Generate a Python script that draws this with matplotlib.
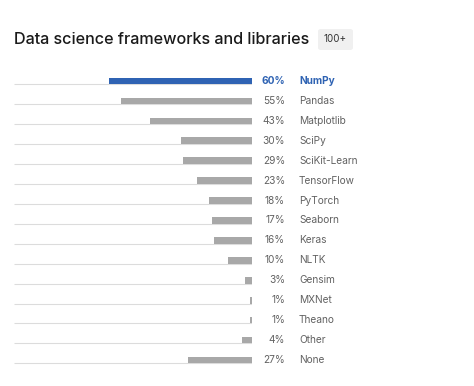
import matplotlib.pyplot as plt
from matplotlib import transforms
from matplotlib.patches import FancyBboxPatch

plt.rcParams['font.family'] = ['Inter', 'DejaVu Sans']

# Dane
names = ['NumPy', 'Pandas', 'Matplotlib', 'SciPy', 'SciKit-Learn', 'TensorFlow',
         'PyTorch', 'Seaborn', 'Keras', 'NLTK', 'Gensim', 'MXNet', 'Theano',
         'Other', 'None']
values = [60, 55, 43, 30, 29, 23, 18, 17, 16, 10, 3, 1, 1, 4, 27]

W, H = 474, 386
fig = plt.figure(figsize=(W / 100, H / 100), dpi=100)
fig.patch.set_facecolor('white')

# osie: od x=14 do x=252 px, od y=71 do y=370 px
ax = fig.add_axes([14 / W, 1 - 370 / H, (252 - 14) / W, (370 - 71) / H])
ax.set_xlim(100, 0)
ax.set_ylim(len(names) - 0.5, -0.5)
ax.axis('off')

blue = '#2f63b3'
grey = '#a8a8a8'
ypos = list(range(len(names)))
colors = [blue] + [grey] * (len(names) - 1)

bh = 0.33
ax.hlines([y + bh / 2 for y in ypos], 0, 100, color='#dcdcdc', lw=0.8, zorder=1)
ax.barh(ypos, values, height=bh, color=colors, zorder=2)

tr = transforms.blended_transform_factory(fig.transFigure, ax.transData)
for i, (n, v) in enumerate(zip(names, values)):
    c = blue if i == 0 else '#626262'
    w = 'bold' if i == 0 else 'normal'
    ax.text(285 / W, i, f'{v}%', transform=tr, ha='right', va='center',
            fontsize=7.3, color=c, fontweight=w)
    ax.text(299 / W, i, n, transform=tr, ha='left', va='center',
            fontsize=7.3, color=c, fontweight=w)

# tytuł
fig.text(14 / W, 1 - 39.5 / H, 'Data science frameworks and libraries',
         fontsize=11.65, fontweight='medium', color='#1a1a1a', ha='left', va='center')
badge = FancyBboxPatch((318 / W, 1 - 50 / H), 35 / W, 21 / H,
                       boxstyle='round,pad=0,rounding_size=0.006',
                       transform=fig.transFigure, facecolor='#f0f0f0',
                       edgecolor='none')
fig.patches.append(badge)
fig.text(335.5 / W, 1 - 39.5 / H, '100+', fontsize=7, color='#333333',
         ha='center', va='center')

fig.savefig('out.png', dpi=100, facecolor='white')
